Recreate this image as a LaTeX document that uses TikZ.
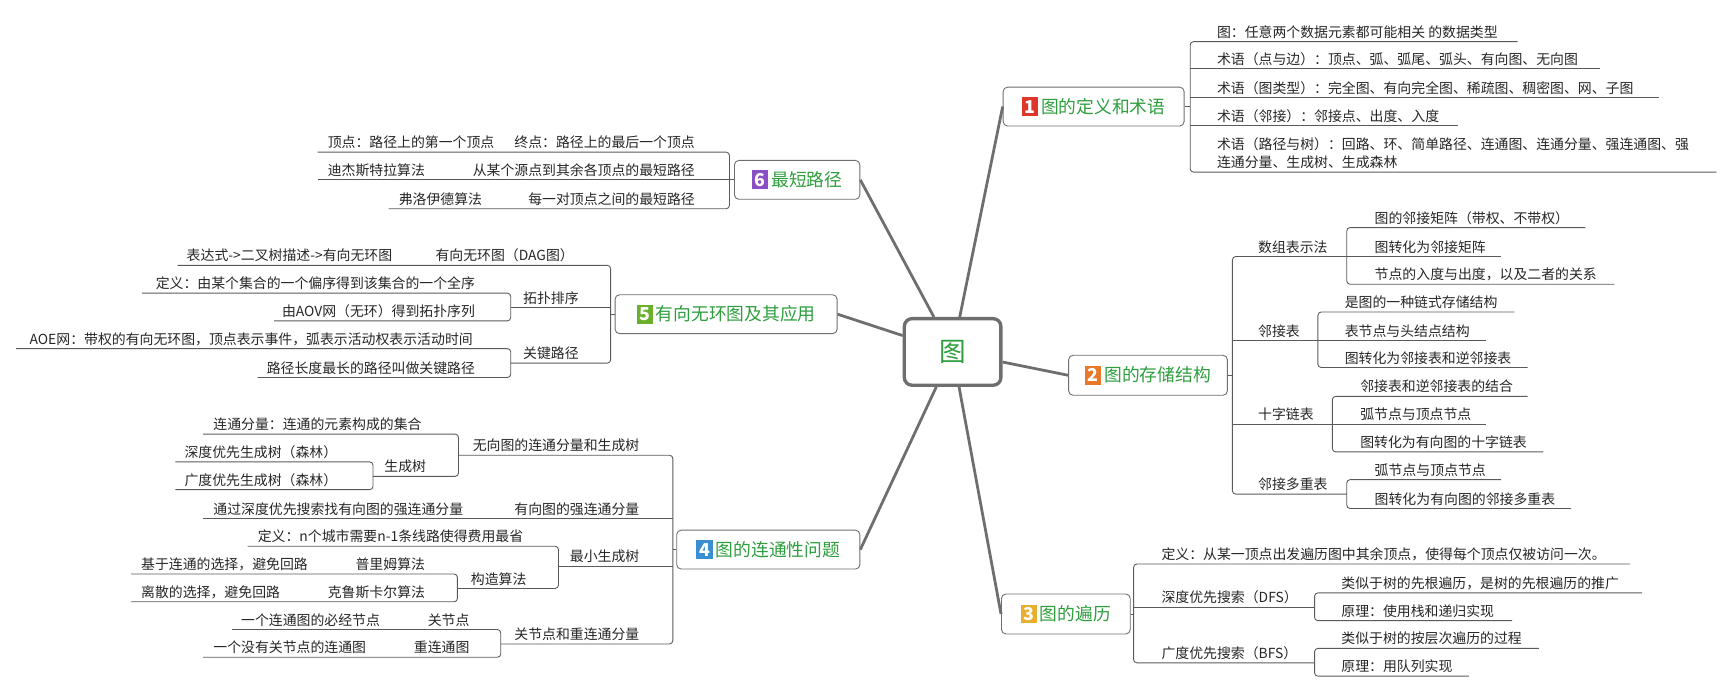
\documentclass[tikz,border=0pt]{standalone}
\usepackage{fontspec}
\setmainfont{Noto Sans CJK SC}
\usepackage{tikz}

\definecolor{linegray}{HTML}{5A5A5A}
\definecolor{boxgray}{HTML}{6E6E6E}
\definecolor{titlegreen}{HTML}{2E9E3E}
\definecolor{badgeA}{HTML}{E0352B}
\definecolor{badgeB}{HTML}{E8782A}
\definecolor{badgeC}{HTML}{E9AE2E}
\definecolor{badgeD}{HTML}{3A8ED2}
\definecolor{badgeE}{HTML}{6AB02C}
\definecolor{badgeF}{HTML}{8A4FC7}

\newcommand{\badge}[2]{{\setlength\fboxsep{2.5pt}\colorbox{#1}{\textcolor{white}{\bfseries #2}}}}

\tikzset{
  leaf/.style={inner sep=0pt, font=\fontsize{12.5}{14}\selectfont, text=black!85},
  branchbox/.style={draw=boxgray, fill=white, rounded corners=4pt, line width=0.8pt,
    inner sep=3pt, font=\fontsize{16}{18}\selectfont, text=titlegreen},
  rootbox/.style={draw=boxgray, fill=white, rounded corners=7pt, line width=3pt,
    minimum width=87pt, minimum height=60pt, font=\fontsize{24}{26}\selectfont, text=titlegreen},
  bracketline/.style={draw=linegray, line width=0.8pt, rounded corners=3pt},
  spoke/.style={draw=boxgray, line width=2.5pt}
}

\begin{document}
\begin{tikzpicture}[x=1pt,y=-1pt]
  \useasboundingbox (0,0) rectangle (1560,624);

  % root and main branches
  \node[rootbox] (g) at (858,317) {图};
  \node[branchbox, minimum width=163pt, minimum height=35pt] (b1) at (985,96) {\badge{badgeA}{1}\,图的定义和术语};
  \node[branchbox, minimum width=143pt, minimum height=36pt] (b2) at (1034,338) {\badge{badgeB}{2}\,图的存储结构};
  \node[branchbox, minimum width=116pt, minimum height=36pt] (b3) at (960,553) {\badge{badgeC}{3}\,图的遍历};
  \node[branchbox, minimum width=165pt, minimum height=35pt] (b4) at (692,495) {\badge{badgeD}{4}\,图的连通性问题};
  \node[branchbox, minimum width=200pt, minimum height=35pt] (b5) at (654,283) {\badge{badgeE}{5}\,有向无环图及其应用};
  \node[branchbox, minimum width=113pt, minimum height=35pt] (b6) at (718,162) {\badge{badgeF}{6}\,最短路径};

  \draw[spoke] (g) -- (b1.west);
  \draw[spoke] (g) -- (b2.west);
  \draw[spoke] (g) -- (b3.west);
  \draw[spoke] (g) -- (b4.east);
  \draw[spoke] (g) -- (b5.east);
  \draw[spoke] (g) -- (b6.east);

  % 1 definitions
  \coordinate (k1) at (1072,96);
  \draw[bracketline] (b1.east) -- (k1);
  \draw[bracketline] (1367,37.5) -- (1072,37.5) -- (1072,155) -- (1546,155);
  \draw[bracketline] (1072,62) -- (1441,62);
  \draw[bracketline] (1072,88) -- (1494,88);
  \draw[bracketline] (1072,113) -- (1313,113);
  \node[leaf, anchor=base west] (a1) at (1096,33.5) {图：任意两个数据元素都可能相关 的数据类型};
  \node[leaf, anchor=base west] (a2) at (1096,58) {术语（点与边）：顶点、弧、弧尾、弧头、有向图、无向图};
  \node[leaf, anchor=base west] (a3) at (1096,84) {术语（图类型）：完全图、有向完全图、稀疏图、稠密图、网、子图};
  \node[leaf, anchor=base west] (a4) at (1096,109) {术语（邻接）：邻接点、出度、入度};
  \node[leaf, anchor=base west] (a5) at (1096,135) {术语（路径与树）：回路、环、简单路径、连通图、连通分量、强连通图、强};
  \node[leaf, anchor=base west] (a6) at (1096,151) {连通分量、生成树、生成森林};

  % 2 storage
  \coordinate (k2) at (1110,338);
  \draw[bracketline] (b2.east) -- (k2);
  \draw[bracketline] (1213,231) -- (1110,231) -- (1110,445) -- (1213,445);
  \draw[bracketline] (1110,307) -- (1187,307);
  \draw[bracketline] (1110,382) -- (1200,382);
  \node[leaf, anchor=base west] (s1) at (1133,227) {数组表示法};
  \node[leaf, anchor=base west] (s2) at (1133,303) {邻接表};
  \node[leaf, anchor=base west] (s3) at (1133,378) {十字链表};
  \node[leaf, anchor=base west] (s4) at (1133,441) {邻接多重表};
  \draw[bracketline] (1428,205) -- (1213,205) -- (1213,256) -- (1454,256);
  \draw[bracketline] (1213,231) -- (1352,231);
  \node[leaf, anchor=base west] (s11) at (1238,201) {图的邻接矩阵（带权、不带权）};
  \node[leaf, anchor=base west] (s12) at (1238,227) {图转化为邻接矩阵};
  \node[leaf, anchor=base west] (s13) at (1238,252) {节点的入度与出度，以及二者的关系};
  \draw[bracketline] (1364,281) -- (1187,281) -- (1187,331) -- (1376,331);
  \draw[bracketline] (1187,307) -- (1338,307);
  \node[leaf, anchor=base west] (s21) at (1211,277) {是图的一种链式存储结构};
  \node[leaf, anchor=base west] (s22) at (1211,303) {表节点与头结点结构};
  \node[leaf, anchor=base west] (s23) at (1211,327) {图转化为邻接表和逆邻接表};
  \draw[bracketline] (1376,357) -- (1200,357) -- (1200,407) -- (1390,407);
  \draw[bracketline] (1200,382) -- (1338,382);
  \node[leaf, anchor=base west] (s31) at (1225,353) {邻接表和逆邻接表的结合};
  \node[leaf, anchor=base west] (s32) at (1225,378) {弧节点与顶点节点};
  \node[leaf, anchor=base west] (s33) at (1225,403) {图转化为有向图的十字链表};
  \draw[bracketline] (1352,432) -- (1213,432) -- (1213,458) -- (1415,458);
  \node[leaf, anchor=base west] (s41) at (1238,428) {弧节点与顶点节点};
  \node[leaf, anchor=base west] (s42) at (1238,454) {图转化为有向图的邻接多重表};

  % 3 traversal
  \coordinate (k3) at (1021,553);
  \draw[bracketline] (b3.east) -- (k3);
  \draw[bracketline] (1468,508) -- (1021,508) -- (1021,597) -- (1184,597);
  \draw[bracketline] (1021,547) -- (1184,547);
  \node[leaf, anchor=base west] (r1) at (1046,504) {定义：从某一顶点出发遍历图中其余顶点，使得每个顶点仅被访问一次。};
  \node[leaf, anchor=base west] (r2) at (1046,543) {深度优先搜索（DFS）};
  \node[leaf, anchor=base west] (r3) at (1046,593) {广度优先搜索（BFS）};
  \draw[bracketline] (1479,534) -- (1184,534) -- (1184,559) -- (1362,559);
  \node[leaf, anchor=base west] (r21) at (1208,530) {类似于树的先根遍历，是树的先根遍历的推广};
  \node[leaf, anchor=base west] (r22) at (1208,555) {原理：使用栈和递归实现};
  \draw[bracketline] (1386,584) -- (1184,584) -- (1184,609) -- (1323,609);
  \node[leaf, anchor=base west] (r31) at (1208,580) {类似于树的按层次遍历的过程};
  \node[leaf, anchor=base west] (r32) at (1208,605) {原理：用队列实现};

  % 6 shortest path
  \coordinate (k6) at (657,162);
  \draw[bracketline] (b6.west) -- (k6);
  \draw[bracketline] (286,137) -- (657,137) -- (657,188) -- (350,188);
  \draw[bracketline] (657,162) -- (286,162);
  \node[leaf, anchor=base west] (p1) at (295,133) {顶点：路径上的第一个顶点};
  \node[leaf, anchor=base east] (p2) at (626,133) {终点：路径上的最后一个顶点};
  \node[leaf, anchor=base west] (p3) at (295,158) {迪杰斯特拉算法};
  \node[leaf, anchor=base east] (p4) at (626,158) {从某个源点到其余各顶点的最短路径};
  \node[leaf, anchor=base west] (p5) at (359,184) {弗洛伊德算法};
  \node[leaf, anchor=base east] (p6) at (626,184) {每一对顶点之间的最短路径};

  % 5 DAG
  \coordinate (k5) at (550,283);
  \draw[bracketline] (b5.west) -- (k5);
  \draw[bracketline] (160,239) -- (550,239) -- (550,327) -- (460,327);
  \draw[bracketline] (550,277) -- (460,277);
  \node[leaf, anchor=base west] (d1) at (168,235) {表达式->二叉树描述->有向无环图};
  \node[leaf, anchor=base east] (d2) at (517,235) {有向无环图（DAG图）};
  \node[leaf, anchor=base west] (d3) at (471,273) {拓扑排序};
  \node[leaf, anchor=base west] (d4) at (471,323) {关键路径};
  \draw[bracketline] (128,264) -- (460,264) -- (460,289) -- (247,289);
  \node[leaf, anchor=base east] (d31) at (428,260) {定义：由某个集合的一个偏序得到该集合的一个全序};
  \node[leaf, anchor=base east] (d32) at (428,285) {由AOV网（无环）得到拓扑序列};
  \draw[bracketline] (14.5,314) -- (460,314) -- (460,340) -- (232,340);
  \node[leaf, anchor=base east] (d41) at (426,310) {AOE网：带权的有向无环图，顶点表示事件，弧表示活动权表示活动时间};
  \node[leaf, anchor=base east] (d42) at (428,336) {路径长度最长的路径叫做关键路径};

  % 4 connectivity
  \coordinate (k4) at (606,495);
  \draw[bracketline] (b4.west) -- (k4);
  \draw[bracketline] (413,410) -- (606,410) -- (606,580) -- (451,580);
  \draw[bracketline] (606,467) -- (183,467);
  \draw[bracketline] (606,510) -- (503,510);
  \node[leaf, anchor=base east] (c1) at (576,406) {无向图的连通分量和生成树};
  \node[leaf, anchor=base west] (c2) at (192,463) {通过深度优先搜索找有向图的强连通分量};
  \node[leaf, anchor=base east] (c3) at (576,463) {有向图的强连通分量};
  \node[leaf, anchor=base east] (c4) at (576,506) {最小生成树};
  \node[leaf, anchor=base east] (c5) at (576,576) {关节点和重连通分量};
  \draw[bracketline] (183,391) -- (413,391) -- (413,429) -- (336,429);
  \node[leaf, anchor=base west] (c11) at (192,387) {连通分量：连通的元素构成的集合};
  \node[leaf, anchor=base west] (c12) at (346,425) {生成树};
  \draw[bracketline] (158,416) -- (336,416) -- (336,441) -- (158,441);
  \node[leaf, anchor=base west] (c121) at (166,412) {深度优先生成树（森林）};
  \node[leaf, anchor=base west] (c122) at (166,437) {广度优先生成树（森林）};
  \draw[bracketline] (223,492) -- (503,492) -- (503,530) -- (412,530);
  \node[leaf, anchor=base west] (c41) at (232,488) {定义：n个城市需要n-1条线路使得费用最省};
  \node[leaf, anchor=base west] (c42) at (424,526) {构造算法};
  \draw[bracketline] (118,517) -- (412,517) -- (412,542) -- (118,542);
  \node[leaf, anchor=base west] (c421) at (127,513) {基于连通的选择，避免回路};
  \node[leaf, anchor=base east] (c422) at (383,513) {普里姆算法};
  \node[leaf, anchor=base west] (c423) at (127,538) {离散的选择，避免回路};
  \node[leaf, anchor=base east] (c424) at (383,538) {克鲁斯卡尔算法};
  \draw[bracketline] (209,567) -- (451,567) -- (451,592) -- (183,592);
  \node[leaf, anchor=base west] (c51) at (217,563) {一个连通图的必经节点};
  \node[leaf, anchor=base east] (c52) at (423,563) {关节点};
  \node[leaf, anchor=base west] (c53) at (192,588) {一个没有关节点的连通图};
  \node[leaf, anchor=base east] (c54) at (423,588) {重连通图};
\end{tikzpicture}
\end{document}
